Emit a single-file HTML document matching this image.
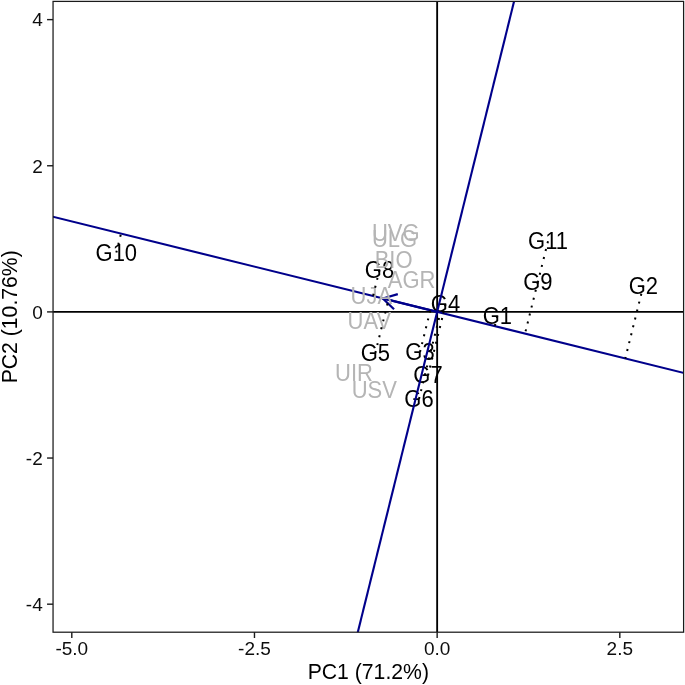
<!DOCTYPE html>
<html><head><meta charset="utf-8"><title>GGE biplot</title>
<style>
html,body{margin:0;padding:0;background:#fff;}
svg{display:block;}
text{font-family:"Liberation Sans",Arial,Helvetica,sans-serif;}
.tk{font-size:19px;fill:#0d0d0d;}
.ti{font-size:21.2px;fill:#000;}
.g{font-size:22px;fill:#000;text-anchor:middle;}
.e{font-size:22px;fill:#b5b5b5;text-anchor:middle;}
</style></head><body>
<svg width="685" height="685" viewBox="0 0 685 685">
<rect width="685" height="685" fill="#fff"/>
<defs><clipPath id="cp"><rect x="53.05" y="1.4" width="630.5500000000001" height="630.8000000000001"/></clipPath></defs>
<g clip-path="url(#cp)">

<line x1="53.05" y1="311.9" x2="683.6" y2="311.9" stroke="#000" stroke-width="1.85"/>
<line x1="437.15" y1="1.4" x2="437.15" y2="632.2" stroke="#000" stroke-width="1.85"/>
<text class="g" transform="translate(116.3,260.50) scale(1,1.06)">G10</text>
<text class="g" transform="translate(379.5,277.90) scale(1,1.06)">G8</text>
<text class="g" transform="translate(375.3,360.90) scale(1,1.06)">G5</text>
<text class="g" transform="translate(420,359.90) scale(1,1.06)">G3</text>
<text class="g" transform="translate(428,383.30) scale(1,1.06)">G7</text>
<text class="g" transform="translate(419,406.90) scale(1,1.06)">G6</text>
<text class="g" transform="translate(445.5,312.10) scale(1,1.06)">G4</text>
<text class="g" transform="translate(497.3,323.90) scale(1,1.06)">G1</text>
<text class="g" transform="translate(537.8,289.80) scale(1,1.06)">G9</text>
<text class="g" transform="translate(548,249.10) scale(1,1.06)">G11</text>
<text class="g" transform="translate(643.3,293.70) scale(1,1.06)">G2</text>
<line x1="48.05" y1="215.52" x2="688.6" y2="374.18" stroke="#00008b" stroke-width="2.1"/>
<line x1="515.30" y1="-3.6" x2="356.57" y2="637.2" stroke="#00008b" stroke-width="2.1"/>
<line x1="437.15" y1="311.9" x2="382.8" y2="298.44" stroke="#00008b" stroke-width="2.2"/>
<polyline points="397.79,294.11 382.8,298.44 394.04,309.26" fill="none" stroke="#00008b" stroke-width="2.2" stroke-linejoin="round"/>
<text class="e" transform="translate(395.8,241.30) scale(1,1.06)">UVG</text>
<text class="e" transform="translate(394.6,246.60) scale(1,1.06)">ULG</text>
<text class="e" transform="translate(393.6,268.00) scale(1,1.06)">BIO</text>
<text class="e" transform="translate(411.6,287.50) scale(1,1.06)">AGR</text>
<text class="e" transform="translate(371.3,303.50) scale(1,1.06)">UJA</text>
<text class="e" transform="translate(369.4,328.90) scale(1,1.06)">UAV</text>
<text class="e" transform="translate(354,381.30) scale(1,1.06)">UIR</text>
<text class="e" transform="translate(374.3,398.30) scale(1,1.06)">USV</text>
<line x1="116.3" y1="252.6" x2="121.01" y2="233.59" stroke="#000" stroke-width="2" stroke-dasharray="2 6.15"/>
<line x1="379.5" y1="270" x2="373.05" y2="296.02" stroke="#000" stroke-width="2" stroke-dasharray="2 6.15"/>
<line x1="375.3" y1="353" x2="388.47" y2="299.84" stroke="#000" stroke-width="2" stroke-dasharray="2 6.15"/>
<line x1="420" y1="352" x2="430.35" y2="310.22" stroke="#000" stroke-width="2" stroke-dasharray="2 6.15"/>
<line x1="428" y1="375.4" x2="443.35" y2="313.44" stroke="#000" stroke-width="2" stroke-dasharray="2 6.15"/>
<line x1="419" y1="399" x2="440.38" y2="312.70" stroke="#000" stroke-width="2" stroke-dasharray="2 6.15"/>
<line x1="445.5" y1="304.2" x2="443.22" y2="313.40" stroke="#000" stroke-width="2" stroke-dasharray="2 6.15"/>
<line x1="497.3" y1="316" x2="494.78" y2="326.17" stroke="#000" stroke-width="2" stroke-dasharray="2 6.15"/>
<line x1="537.8" y1="281.9" x2="524.98" y2="333.66" stroke="#000" stroke-width="2" stroke-dasharray="2 6.15"/>
<line x1="548" y1="241.2" x2="537.92" y2="281.90" stroke="#000" stroke-width="2" stroke-dasharray="2 6.15"/>
<line x1="643.3" y1="285.8" x2="625.29" y2="358.50" stroke="#000" stroke-width="2" stroke-dasharray="2 6.15"/>
</g>
<rect x="53.05" y="1.4" width="630.5500000000001" height="630.8000000000001" fill="none" stroke="#1a1a1a" stroke-width="1.25"/>
<line x1="47.05" y1="19.62" x2="53.05" y2="19.62" stroke="#1a1a1a" stroke-width="1.4"/>
<text class="tk" text-anchor="end" x="42.75" y="26.42">4</text>
<line x1="47.05" y1="165.76" x2="53.05" y2="165.76" stroke="#1a1a1a" stroke-width="1.4"/>
<text class="tk" text-anchor="end" x="42.75" y="172.56">2</text>
<line x1="47.05" y1="311.90" x2="53.05" y2="311.90" stroke="#1a1a1a" stroke-width="1.4"/>
<text class="tk" text-anchor="end" x="42.75" y="318.70">0</text>
<line x1="47.05" y1="458.04" x2="53.05" y2="458.04" stroke="#1a1a1a" stroke-width="1.4"/>
<text class="tk" text-anchor="end" x="42.75" y="464.84">-2</text>
<line x1="47.05" y1="604.18" x2="53.05" y2="604.18" stroke="#1a1a1a" stroke-width="1.4"/>
<text class="tk" text-anchor="end" x="42.75" y="610.98">-4</text>
<line x1="71.80" y1="632.2" x2="71.80" y2="638.0" stroke="#1a1a1a" stroke-width="1.4"/>
<text class="tk" text-anchor="middle" x="71.80" y="655.2">-5.0</text>
<line x1="254.47" y1="632.2" x2="254.47" y2="638.0" stroke="#1a1a1a" stroke-width="1.4"/>
<text class="tk" text-anchor="middle" x="254.47" y="655.2">-2.5</text>
<line x1="437.15" y1="632.2" x2="437.15" y2="638.0" stroke="#1a1a1a" stroke-width="1.4"/>
<text class="tk" text-anchor="middle" x="437.15" y="655.2">0.0</text>
<line x1="619.82" y1="632.2" x2="619.82" y2="638.0" stroke="#1a1a1a" stroke-width="1.4"/>
<text class="tk" text-anchor="middle" x="619.82" y="655.2">2.5</text>
<text class="ti" text-anchor="middle" x="368.32" y="679.3">PC1 (71.2%)</text>
<text class="ti" text-anchor="middle" transform="translate(16.8,316.80) rotate(-90)">PC2 (10.76%)</text>
</svg></body></html>
